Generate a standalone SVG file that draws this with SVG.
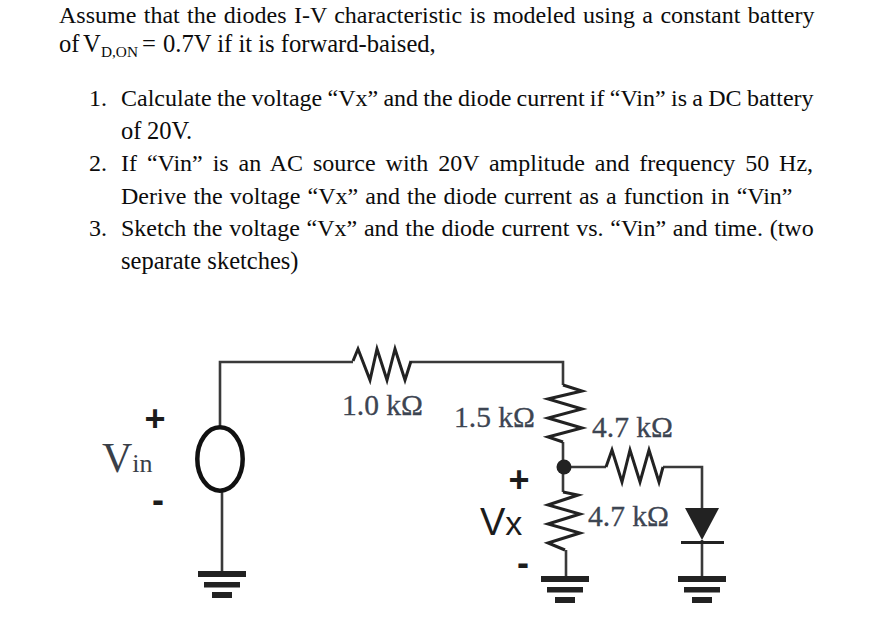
<svg xmlns="http://www.w3.org/2000/svg" width="885" height="625" viewBox="0 0 885 625">
<style>
.t{font-family:"Liberation Serif",serif;font-size:24px;fill:#0c0c0c}
.l{font-family:"Liberation Serif",serif;font-size:29.5px;fill:#3d4552;stroke:#3d4552;stroke-width:.3}
.s{font-family:"Liberation Sans",sans-serif;fill:#1c1c1c}
.w{fill:none;stroke:#3a3a3a;stroke-width:2.6;stroke-linejoin:miter}
.r{fill:none;stroke:#222;stroke-width:3}
.g{fill:#222;stroke:none}
</style>
<defs>
<g id="gnd"><rect class="g" x="-24" y="-3" width="48" height="6"/><rect class="g" x="-18" y="8" width="36" height="5.500"/><rect class="g" x="-10" y="18" width="20" height="6"/></g>
</defs>
<rect width="885" height="625" fill="#fff"/>
<g id="question">
<text class="t" x="59" y="23" word-spacing="1.400">Assume that the diodes I-V characteristic is modeled using a constant battery</text>
<text class="t" x="59" y="52" style="font-size:24.600px">of<tspan x="83">V</tspan><tspan x="101" dy="5" style="font-size:15.300px">D,ON</tspan><tspan x="142" dy="-5">=</tspan><tspan x="163">0.7V if it is forward-baised,</tspan></text>
<text class="t" x="89" y="106">1.</text>
<text class="t" x="121" y="106" word-spacing="-0.700">Calculate the voltage “Vx” and the diode current if “Vin” is a DC battery</text>
<text class="t" x="121" y="139" style="font-size:24.500px" word-spacing="-0.500">of 20V.</text>
<text class="t" x="89" y="171">2.</text>
<text class="t" x="121" y="171" word-spacing="3.900">If “Vin” is an AC source with 20V amplitude and frequency 50 Hz,</text>
<text class="t" x="121" y="204" word-spacing="1.100">Derive the voltage “Vx” and the diode current as a function in “Vin”</text>
<text class="t" x="89" y="236">3.</text>
<text class="t" x="121" y="236" word-spacing="0.750">Sketch the voltage “Vx” and the diode current vs. “Vin” and time. (two</text>
<text class="t" x="121" y="269" style="font-size:24.500px">separate sketches)</text>
</g>
<g id="connectors">
<path class="w" d="M220 427V362H353"/>
<path class="w" d="M222 491V574"/>
<path class="w" d="M411 362H563V385"/>
<path class="w" d="M563 442V492"/>
<path class="w" d="M566 550V577"/>
<path class="w" d="M564 467H606"/>
<path class="w" d="M663 467H702V508"/>
<path class="w" d="M702 540V577"/>
</g>
<g id="source-vin">
<ellipse cx="220" cy="459" rx="22.700" ry="31.700" fill="#fff" stroke="#111" stroke-width="4.500"/>
<text x="155" y="431" class="s" font-size="36" font-weight="700" text-anchor="middle">+</text>
<text x="102" y="472" font-family="'Liberation Serif',serif" font-size="42" fill="#3a3f48">V<tspan font-size="26">in</tspan></text>
<text x="158" y="512" class="s" font-size="36" font-weight="700" text-anchor="middle">-</text>
</g>
<g id="r1"><path class="r" d="M353 361L358 349L370 380L377 349L387 380L395 349L405 380L411 361"/><text class="l" x="342" y="415">1.0 kΩ</text></g>
<g id="r2"><path class="r" d="M563 385L582 391L548 399L582 409L548 418L582 428L548 437L563 442"/><text class="l" x="454" y="427">1.5 kΩ</text></g>
<g id="r3"><path class="r" d="M606 467L612 450L622 482L630 450L640 482L649 450L659 482L663 467"/><text class="l" x="592" y="437">4.7 kΩ</text></g>
<g id="r4"><path class="r" d="M563 492L578 495L548 505L580 514L548 524L580 533L548 543L565 550"/><text class="l" x="588" y="526">4.7 kΩ</text></g>
<g id="node-x"><circle cx="564" cy="467" r="7.500" fill="#222"/></g>
<g id="label-vx">
<text x="519" y="492" class="s" font-size="36" font-weight="700" text-anchor="middle">+</text>
<text x="480" y="535" class="s" font-size="38" fill="#222">V<tspan font-size="34">x</tspan></text>
<text x="523" y="575" class="s" font-size="36" font-weight="700" text-anchor="middle">-</text>
</g>
<g id="diode"><path class="g" d="M685 508H719L702 540Z"/><rect class="g" x="681" y="541" width="43" height="3"/></g>
<g id="ground-1"><use href="#gnd" x="222" y="574"/></g>
<g id="ground-2"><use href="#gnd" x="565" y="579"/></g>
<g id="ground-3"><use href="#gnd" x="702" y="579"/></g>
</svg>
